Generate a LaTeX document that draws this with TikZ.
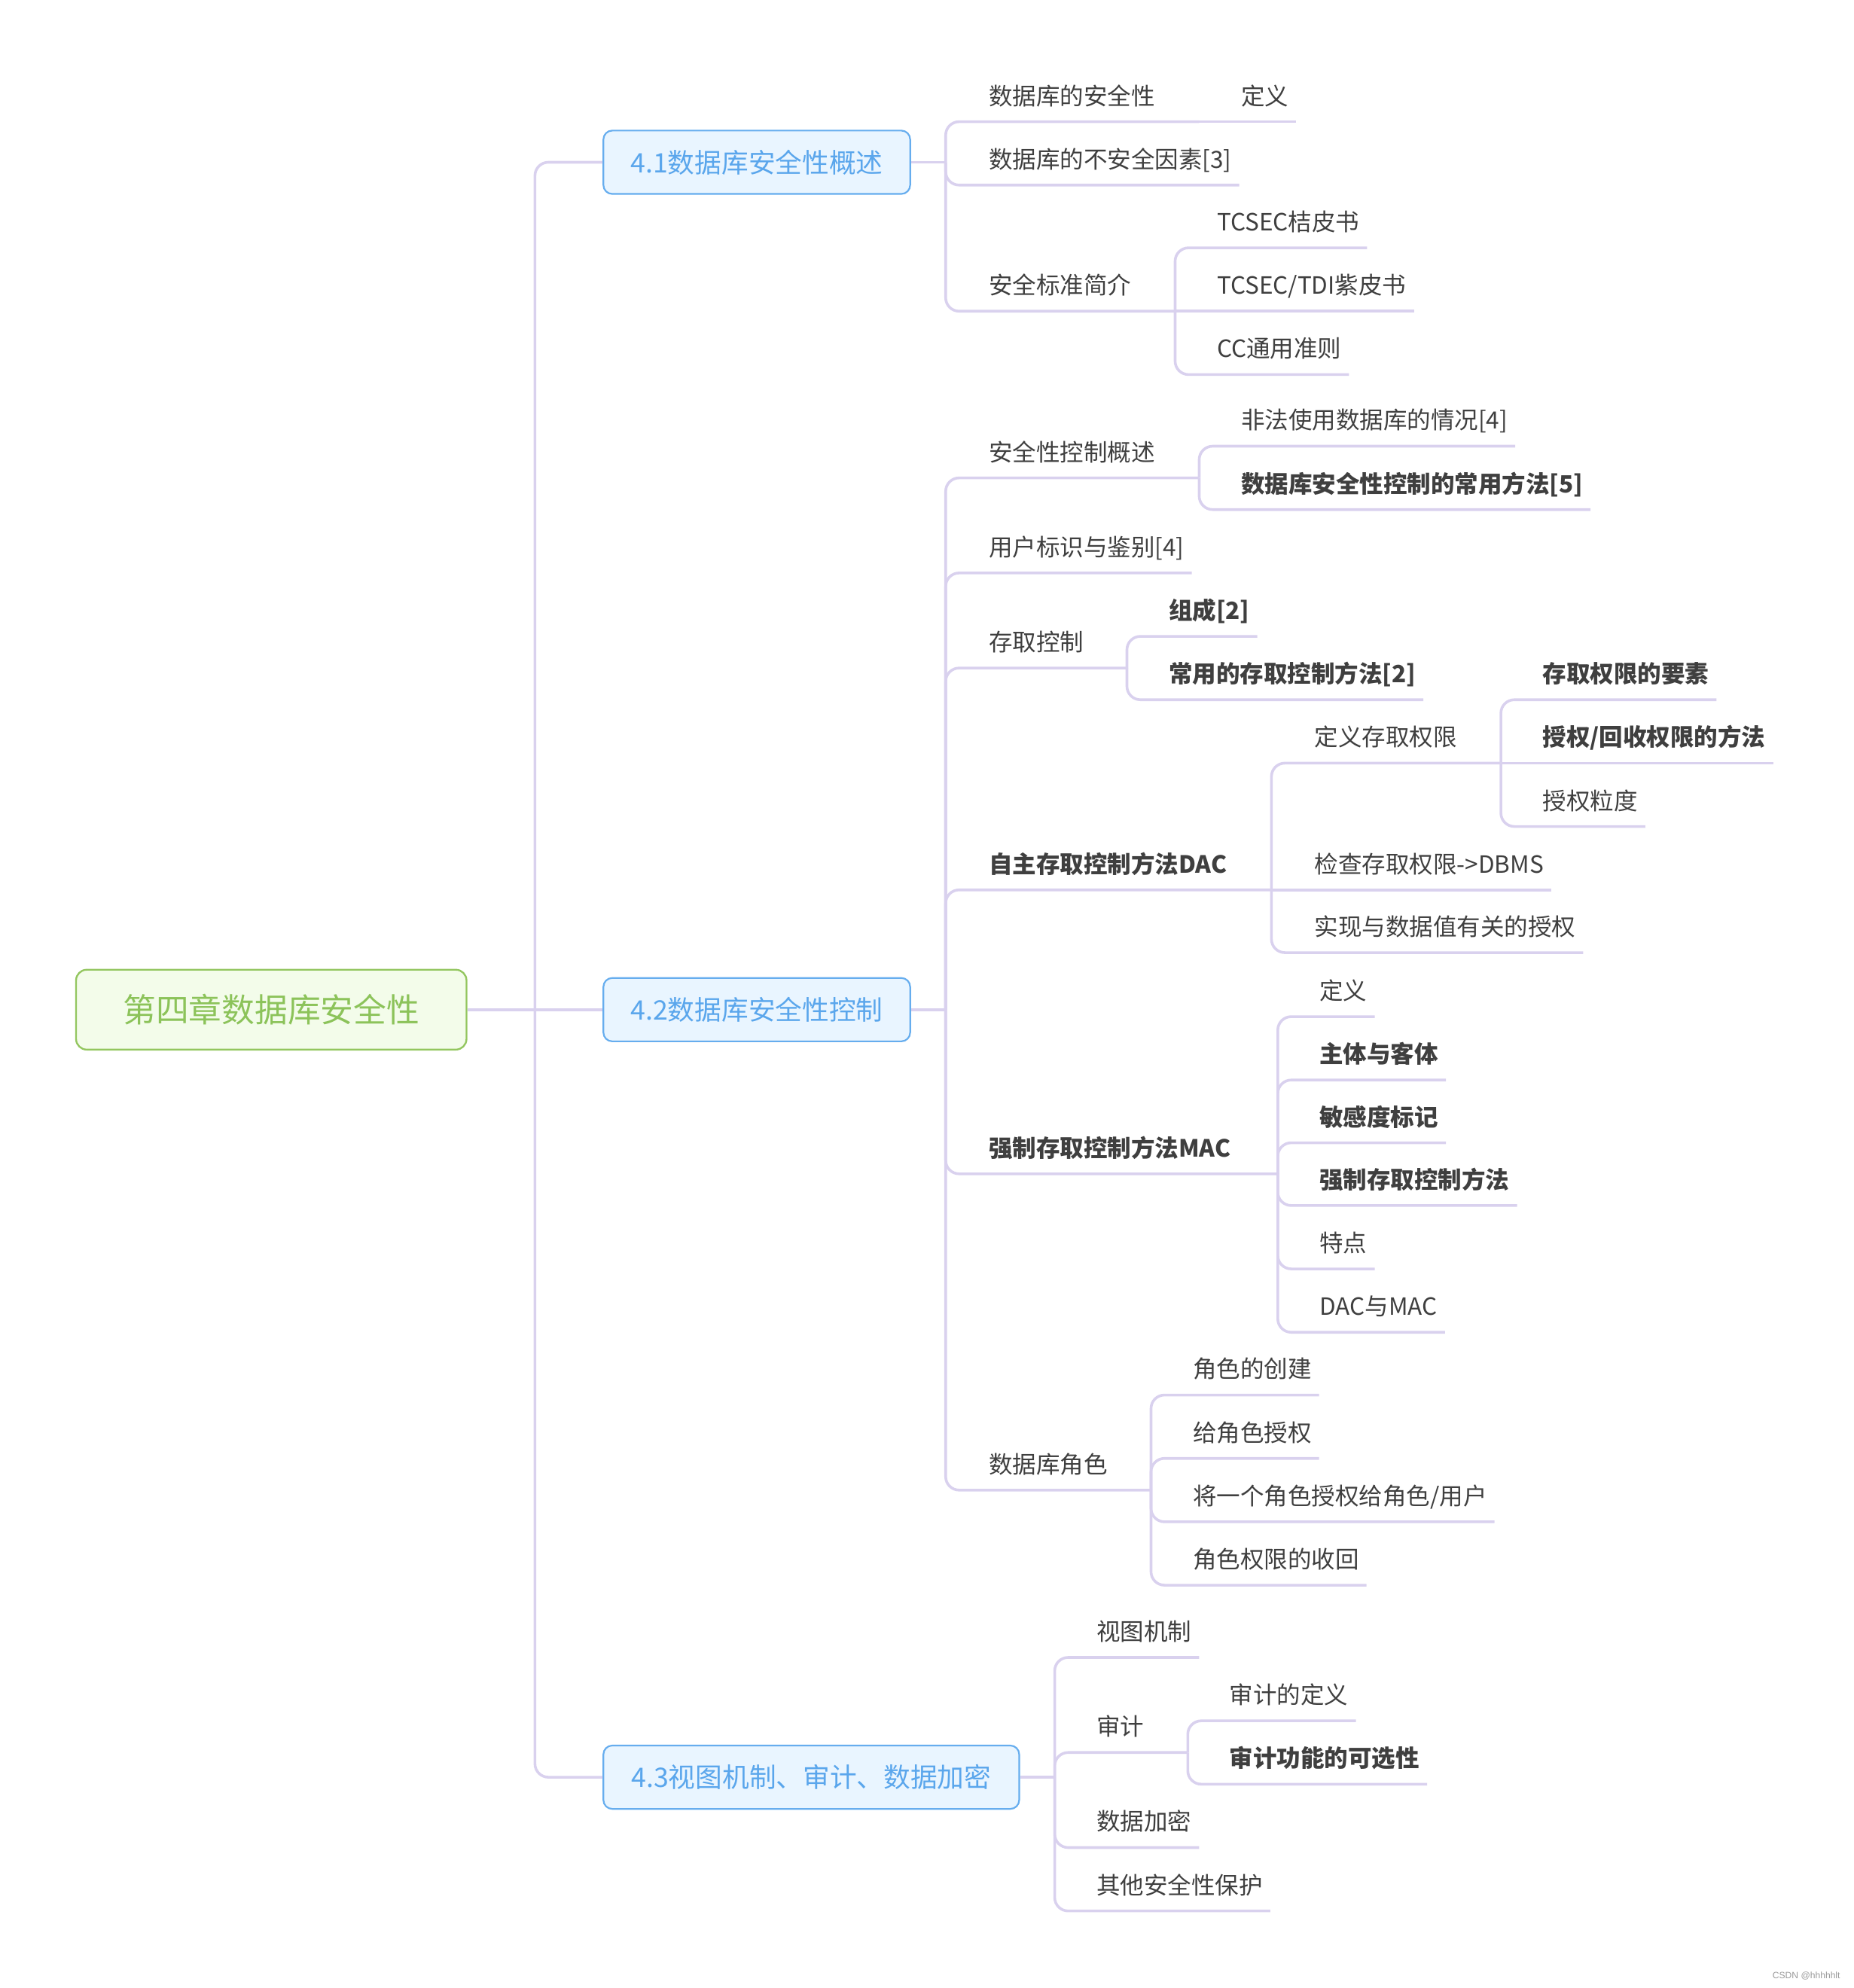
\documentclass[tikz,border=0pt]{standalone}
\usepackage{fontspec}
\setmainfont{Noto Sans CJK SC}
\newfontfamily\wmfont{Liberation Sans}
\definecolor{lineC}{HTML}{D9D1EE}
\definecolor{txtC}{HTML}{3F3F3F}
\definecolor{boxB}{HTML}{66ADEE}
\definecolor{boxF}{HTML}{E9F5FF}
\definecolor{boxT}{HTML}{5AA6EC}
\definecolor{rootB}{HTML}{93C65F}
\definecolor{rootF}{HTML}{F3FCEA}
\definecolor{rootT}{HTML}{8CC35A}
\newcommand\mmleaf[2]{\draw[conn] (#1) |- ([shift={(6,20.5)}]#2.east);}
\newcommand\mmstraight[2]{\draw[conn, sharp corners] (#1) |- ([shift={(6,20.5)}]#2.east);}
\newcommand\mmbranch[2]{\draw[conn] (#1) |- (#2);}
\begin{document}
\begin{tikzpicture}[x=0.5pt,y=-0.5pt,
  conn/.style={draw=lineC, line width=1.07pt, rounded corners=5.3pt},
  topic/.style={anchor=west, inner sep=0pt, outer sep=0pt, text=txtC,
    font=\fontsize{9.36pt}{11pt}\selectfont, text height=8.2pt, text depth=1.1pt},
  topicb/.style={topic, font=\fontsize{9.36pt}{11pt}\selectfont\bfseries},
  lvbox/.style={draw=boxB, fill=boxF, text=boxT, line width=0.65pt,
    rounded corners=3.5pt, minimum height=25pt, inner sep=0pt,
    font=\fontsize{10.6pt}{12pt}\selectfont},
  rootbox/.style={draw=rootB, fill=rootF, text=rootT, line width=0.7pt,
    rounded corners=4.2pt, minimum height=31.5pt, minimum width=154pt, inner sep=0pt,
    font=\fontsize{13pt}{15pt}\selectfont}]
\useasboundingbox (0,0) rectangle (1462,1568.3);

% ---- main boxes
\node[rootbox] (r) at (214,796.5) {第四章数据库安全性};
\node[lvbox, minimum width=121pt] (b41) at (597,128) {4.1数据库安全性概述};
\node[lvbox, minimum width=121pt] (b42) at (597,796.5) {4.2数据库安全性控制};
\node[lvbox, minimum width=164pt] (b43) at (640,1402) {4.3视图机制、审计、数据加密};

\coordinate (jT) at (422,796.5);
\coordinate (j41) at (746,128);
\coordinate (j42) at (746,796.5);
\coordinate (j43) at (832,1402);

% ---- 4.1
\node[topic] (a1) at (780,75.5) {数据库的安全性};
\coordinate (ja1) at (946,96);
\node[topic] (a1a) at (979,75.5) {定义};
\node[topic] (a2) at (780,125.5) {数据库的不安全因素[3]};
\node[topic] (a3) at (780,225) {安全标准简介};
\coordinate (ja3) at (927,245.5);
\node[topic] (a3a) at (960,175) {TCSEC桔皮书};
\node[topic] (a3b) at (960,225) {TCSEC/TDI紫皮书};
\node[topic] (a3c) at (960,275) {CC通用准则};

% ---- 4.2
\node[topic] (b1) at (780,356.5) {安全性控制概述};
\coordinate (jb1) at (946,377);
\node[topic] (b1a) at (979,331.5) {非法使用数据库的情况[4]};
\node[topicb] (b1b) at (979,381.5) {数据库安全性控制的常用方法[5]};
\node[topic] (b2) at (780,431.5) {用户标识与鉴别[4]};
\node[topic] (b3) at (780,506.5) {存取控制};
\coordinate (jb3) at (889,527);
\node[topicb] (b3a) at (922,481.5) {组成[2]};
\node[topicb] (b3b) at (922,531.5) {常用的存取控制方法[2]};
\node[topicb] (b4) at (780,681.5) {自主存取控制方法DAC};
\coordinate (jb4) at (1003,702);
\node[topic] (b4a) at (1037,581.5) {定义存取权限};
\coordinate (jb4a) at (1184,602);
\node[topicb] (b4a1) at (1217,531.5) {存取权限的要素};
\node[topicb] (b4a2) at (1217,581.5) {授权/回收权限的方法};
\node[topic] (b4a3) at (1217,631.5) {授权粒度};
\node[topic] (b4b) at (1037,681.5) {检查存取权限->DBMS};
\node[topic] (b4c) at (1037,731) {实现与数据值有关的授权};
\node[topicb] (b5) at (780,905.5) {强制存取控制方法MAC};
\coordinate (jb5) at (1008,926);
\node[topic] (b5a) at (1041,781.5) {定义};
\node[topicb] (b5b) at (1041,831.5) {主体与客体};
\node[topicb] (b5c) at (1041,881) {敏感度标记};
\node[topicb] (b5d) at (1041,930.5) {强制存取控制方法};
\node[topic] (b5e) at (1041,980.5) {特点};
\node[topic] (b5f) at (1041,1030.5) {DAC与MAC};
\node[topic] (b6) at (780,1155) {数据库角色};
\coordinate (jb6) at (908,1175.5);
\node[topic] (b6a) at (941,1080) {角色的创建};
\node[topic] (b6b) at (941,1130) {给角色授权};
\node[topic] (b6c) at (941,1180) {将一个角色授权给角色/用户};
\node[topic] (b6d) at (941,1230) {角色权限的收回};

% ---- 4.3
\node[topic] (c1) at (865,1287) {视图机制};
\node[topic] (c2) at (865,1362) {审计};
\coordinate (jc2) at (937,1382.5);
\node[topic] (c2a) at (970,1337) {审计的定义};
\node[topicb] (c2b) at (970,1387) {审计功能的可选性};
\node[topic] (c3) at (865,1437) {数据加密};
\node[topic] (c4) at (865,1487) {其他安全性保护};

\node[anchor=east, inner sep=0pt, text=black!40, font=\wmfont\fontsize{3.6pt}{4pt}\selectfont] (wm) at (1452,1559) {CSDN @hhhhhlt};

% ---- connectors
\draw[conn] (r.east) -- (b42.west);
\mmbranch{jT}{b41.west}
\mmbranch{jT}{b43.west}
\draw[conn] (b41.east) -- (j41);
\draw[conn] (b42.east) -- (j42);
\draw[conn] (b43.east) -- (j43);

\mmbranch{j41}{ja1}
\mmstraight{ja1}{a1a}
\mmleaf{j41}{a2}
\mmbranch{j41}{ja3}
\mmleaf{ja3}{a3a}
\mmstraight{ja3}{a3b}
\mmleaf{ja3}{a3c}

\mmbranch{j42}{jb1}
\mmleaf{jb1}{b1a}
\mmleaf{jb1}{b1b}
\mmleaf{j42}{b2}
\mmbranch{j42}{jb3}
\mmleaf{jb3}{b3a}
\mmleaf{jb3}{b3b}
\mmbranch{j42}{jb4}
\mmbranch{jb4}{jb4a}
\mmleaf{jb4a}{b4a1}
\mmstraight{jb4a}{b4a2}
\mmleaf{jb4a}{b4a3}
\mmstraight{jb4}{b4b}
\mmleaf{jb4}{b4c}
\mmbranch{j42}{jb5}
\mmleaf{jb5}{b5a}
\mmleaf{jb5}{b5b}
\mmleaf{jb5}{b5c}
\mmleaf{jb5}{b5d}
\mmleaf{jb5}{b5e}
\mmleaf{jb5}{b5f}
\mmbranch{j42}{jb6}
\mmleaf{jb6}{b6a}
\mmleaf{jb6}{b6b}
\mmleaf{jb6}{b6c}
\mmleaf{jb6}{b6d}

\mmleaf{j43}{c1}
\mmbranch{j43}{jc2}
\mmleaf{jc2}{c2a}
\mmleaf{jc2}{c2b}
\mmleaf{j43}{c3}
\mmleaf{j43}{c4}
\end{tikzpicture}
\end{document}
